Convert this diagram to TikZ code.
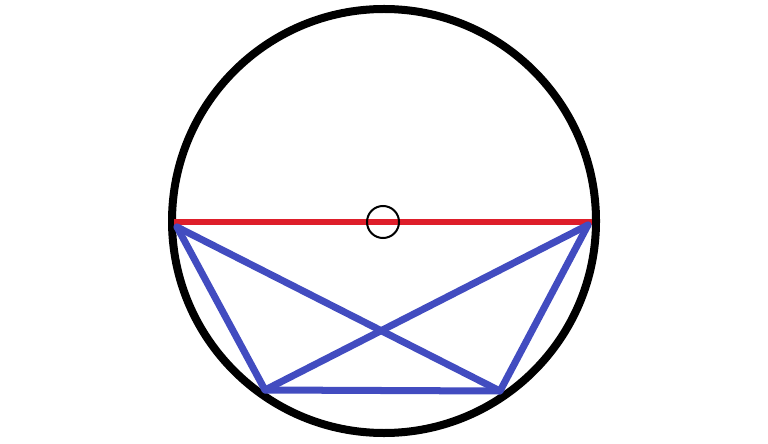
\documentclass[tikz,border=0pt]{standalone}
\usepackage{tikz}
\definecolor{chordred}{RGB}{222,30,42}
\definecolor{chordblue}{RGB}{66,76,192}
\tikzstyle{rim} = [draw=black, line width=0.08cm]
\tikzstyle{diameter} = [draw=chordred, line width=0.06cm]
\tikzstyle{chord} = [draw=chordblue, line width=0.07cm, line join=round, line cap=round]
\tikzstyle{centre} = [circle, draw=black, line width=0.02cm, minimum size=0.32cm, inner sep=0pt]

\begin{document}
\begin{tikzpicture}[x=0.01cm, y=-0.01cm]
            \useasboundingbox (0,0) rectangle (768,443);
            \coordinate (o) at (384,221);
            \coordinate (left) at (174,222);
            \coordinate (right) at (592,222);
            \coordinate (a) at (177,227);
            \coordinate (b) at (588,225);
            \coordinate (c) at (265,390);
            \coordinate (d) at (500,391);
            \draw [rim] (o) circle [radius=212];
            \draw [diameter] (left) -- (right);
            \node (mid) [centre] at (383,222) {};
            \draw [chord] (a) -- (c) -- (d) -- (b);
            \draw [chord] (a) -- (d);
            \draw [chord] (b) -- (c);
        \end{tikzpicture}
\end{document}
